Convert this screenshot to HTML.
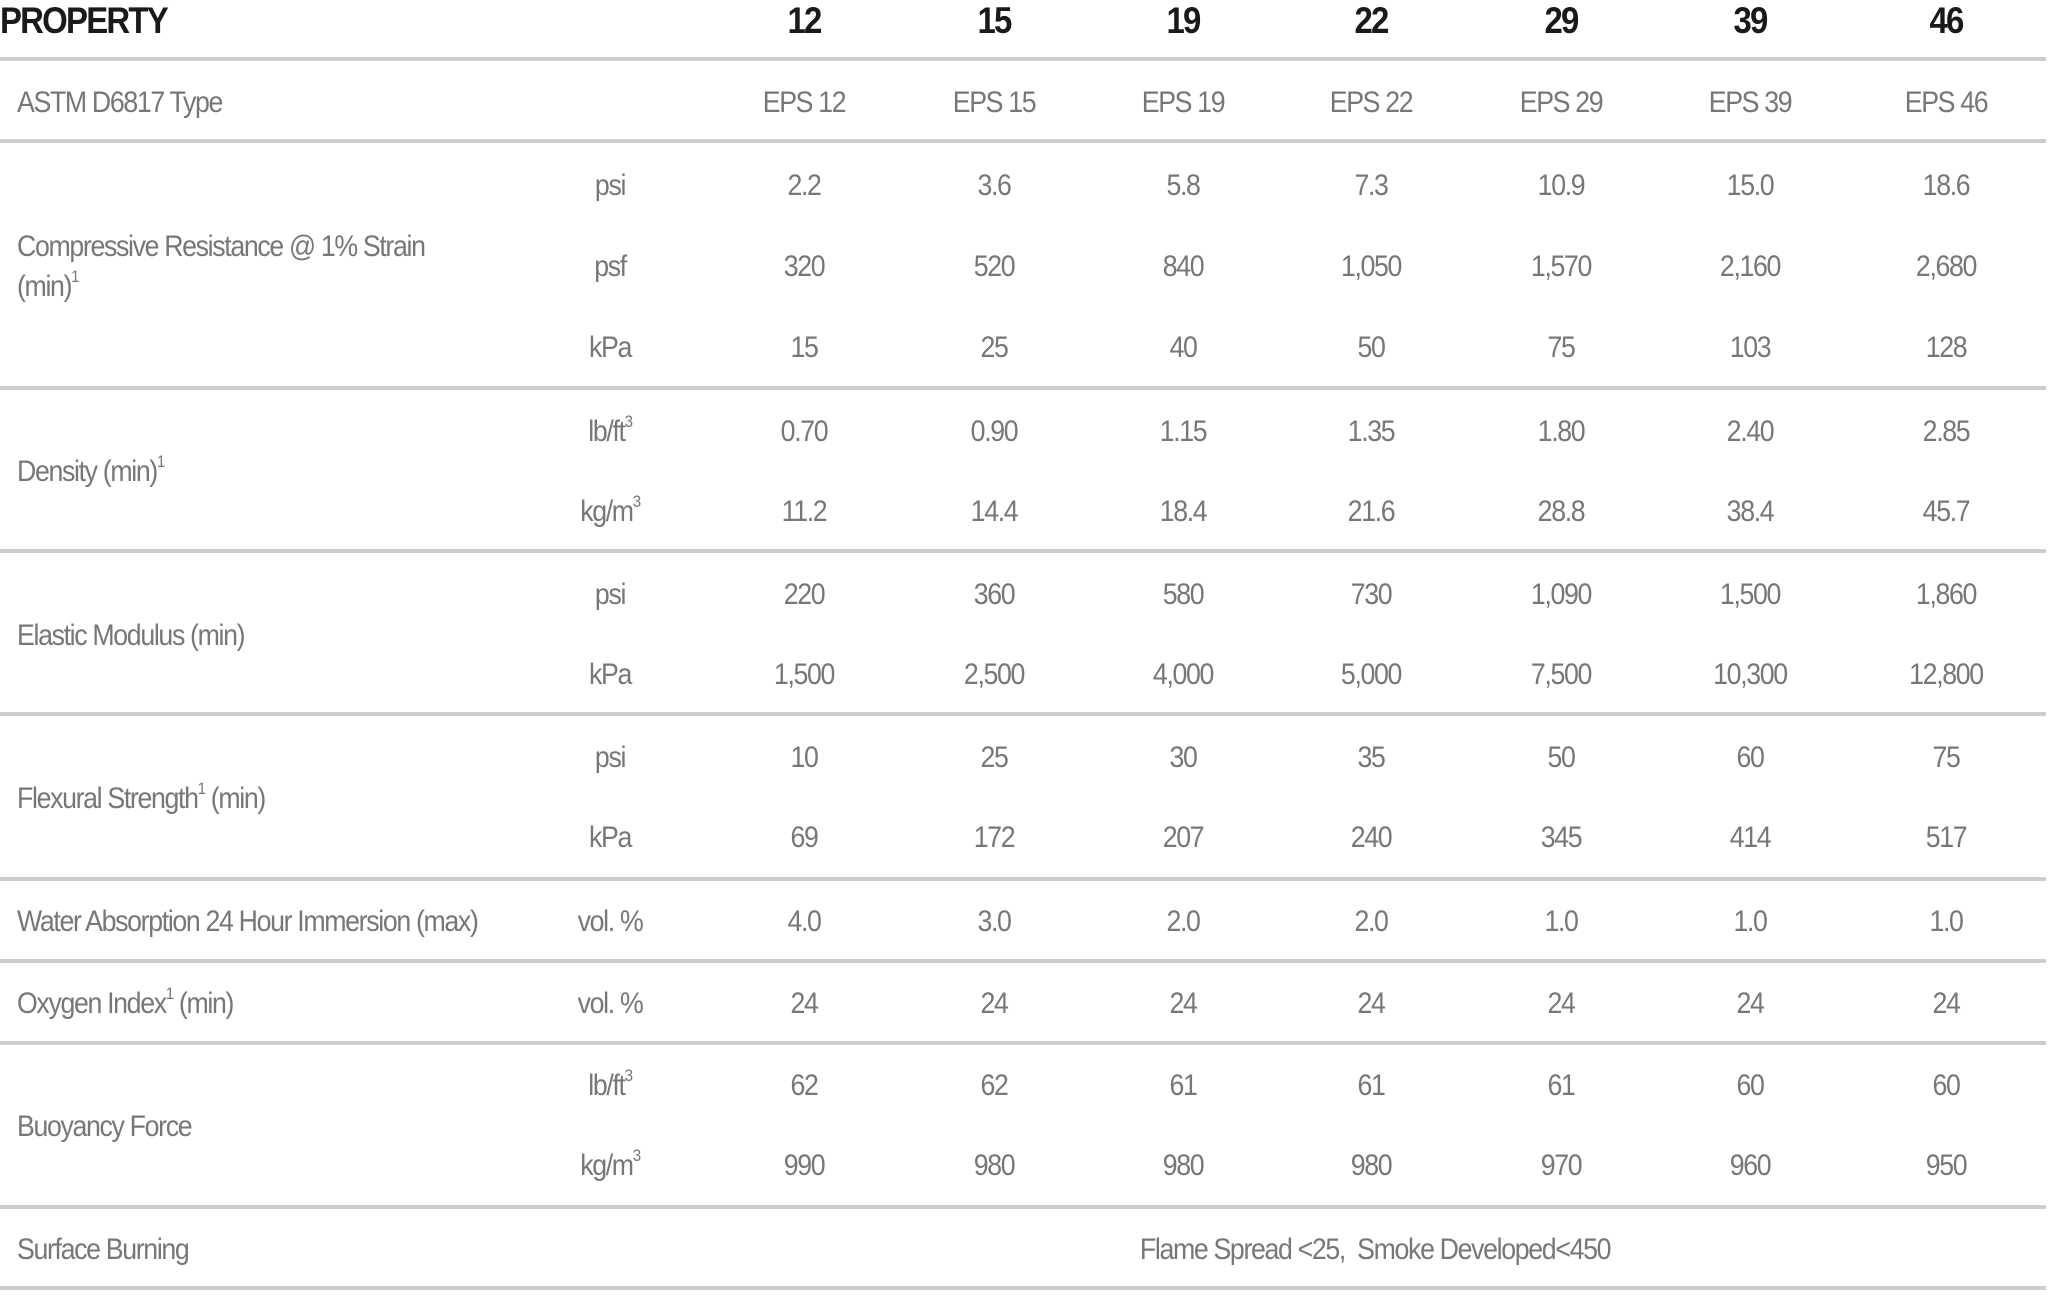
<!DOCTYPE html>
<html><head><meta charset="utf-8"><style>
body{margin:0;width:2048px;height:1295px;background:#fff;position:relative;overflow:hidden;font-family:"Liberation Sans",sans-serif;}
.l{position:absolute;left:0;width:2046px;height:4px;background:#cdcdcd;}
.t{position:absolute;white-space:nowrap;font-size:30px;color:#777;letter-spacing:-1.5px;transform:translate(-50%,-50%) scaleX(.89);}
.p{position:absolute;white-space:nowrap;font-size:30px;color:#777;letter-spacing:-1.5px;transform-origin:0 50%;transform:translateY(-50%) scaleX(.89);}
.h{font-weight:bold;color:#1a1a1a;font-size:37px;letter-spacing:-2px;}
sup{font-size:17px;vertical-align:top;position:relative;top:-3px;}
</style></head><body>
<div class="l" style="top:57px"></div>
<div class="l" style="top:139px"></div>
<div class="l" style="top:386px"></div>
<div class="l" style="top:549px"></div>
<div class="l" style="top:712px"></div>
<div class="l" style="top:877px"></div>
<div class="l" style="top:959px"></div>
<div class="l" style="top:1041px"></div>
<div class="l" style="top:1205px"></div>
<div class="l" style="top:1286px"></div>

<div class="p h" style="left:0;top:21px">PROPERTY</div>
<div class="t h" style="left:804px;top:21px">12</div>
<div class="t h" style="left:994px;top:21px">15</div>
<div class="t h" style="left:1183px;top:21px">19</div>
<div class="t h" style="left:1371px;top:21px">22</div>
<div class="t h" style="left:1561px;top:21px">29</div>
<div class="t h" style="left:1750px;top:21px">39</div>
<div class="t h" style="left:1946px;top:21px">46</div>

<div class="p" style="left:17px;top:103px">ASTM D6817 Type</div>
<div class="t" style="left:804px;top:103px">EPS 12</div><div class="t" style="left:994px;top:103px">EPS 15</div><div class="t" style="left:1183px;top:103px">EPS 19</div><div class="t" style="left:1371px;top:103px">EPS 22</div><div class="t" style="left:1561px;top:103px">EPS 29</div><div class="t" style="left:1750px;top:103px">EPS 39</div><div class="t" style="left:1946px;top:103px">EPS 46</div>

<div class="p" style="left:17px;top:247px">Compressive Resistance @ 1% Strain</div>
<div class="p" style="left:17px;top:287px">(min)<sup>1</sup></div>
<div class="t" style="left:610px;top:186px">psi</div>
<div class="t" style="left:804px;top:186px">2.2</div><div class="t" style="left:994px;top:186px">3.6</div><div class="t" style="left:1183px;top:186px">5.8</div><div class="t" style="left:1371px;top:186px">7.3</div><div class="t" style="left:1561px;top:186px">10.9</div><div class="t" style="left:1750px;top:186px">15.0</div><div class="t" style="left:1946px;top:186px">18.6</div>
<div class="t" style="left:610px;top:267px">psf</div>
<div class="t" style="left:804px;top:267px">320</div><div class="t" style="left:994px;top:267px">520</div><div class="t" style="left:1183px;top:267px">840</div><div class="t" style="left:1371px;top:267px">1,050</div><div class="t" style="left:1561px;top:267px">1,570</div><div class="t" style="left:1750px;top:267px">2,160</div><div class="t" style="left:1946px;top:267px">2,680</div>
<div class="t" style="left:610px;top:348px">kPa</div>
<div class="t" style="left:804px;top:348px">15</div><div class="t" style="left:994px;top:348px">25</div><div class="t" style="left:1183px;top:348px">40</div><div class="t" style="left:1371px;top:348px">50</div><div class="t" style="left:1561px;top:348px">75</div><div class="t" style="left:1750px;top:348px">103</div><div class="t" style="left:1946px;top:348px">128</div>

<div class="p" style="left:17px;top:472px">Density (min)<sup>1</sup></div>
<div class="t" style="left:610px;top:432px">lb/ft<sup>3</sup></div>
<div class="t" style="left:804px;top:432px">0.70</div><div class="t" style="left:994px;top:432px">0.90</div><div class="t" style="left:1183px;top:432px">1.15</div><div class="t" style="left:1371px;top:432px">1.35</div><div class="t" style="left:1561px;top:432px">1.80</div><div class="t" style="left:1750px;top:432px">2.40</div><div class="t" style="left:1946px;top:432px">2.85</div>
<div class="t" style="left:610px;top:512px">kg/m<sup>3</sup></div>
<div class="t" style="left:804px;top:512px">11.2</div><div class="t" style="left:994px;top:512px">14.4</div><div class="t" style="left:1183px;top:512px">18.4</div><div class="t" style="left:1371px;top:512px">21.6</div><div class="t" style="left:1561px;top:512px">28.8</div><div class="t" style="left:1750px;top:512px">38.4</div><div class="t" style="left:1946px;top:512px">45.7</div>

<div class="p" style="left:17px;top:636px">Elastic Modulus (min)</div>
<div class="t" style="left:610px;top:595px">psi</div>
<div class="t" style="left:804px;top:595px">220</div><div class="t" style="left:994px;top:595px">360</div><div class="t" style="left:1183px;top:595px">580</div><div class="t" style="left:1371px;top:595px">730</div><div class="t" style="left:1561px;top:595px">1,090</div><div class="t" style="left:1750px;top:595px">1,500</div><div class="t" style="left:1946px;top:595px">1,860</div>
<div class="t" style="left:610px;top:675px">kPa</div>
<div class="t" style="left:804px;top:675px">1,500</div><div class="t" style="left:994px;top:675px">2,500</div><div class="t" style="left:1183px;top:675px">4,000</div><div class="t" style="left:1371px;top:675px">5,000</div><div class="t" style="left:1561px;top:675px">7,500</div><div class="t" style="left:1750px;top:675px">10,300</div><div class="t" style="left:1946px;top:675px">12,800</div>

<div class="p" style="left:17px;top:799px">Flexural Strength<sup>1</sup> (min)</div>
<div class="t" style="left:610px;top:758px">psi</div>
<div class="t" style="left:804px;top:758px">10</div><div class="t" style="left:994px;top:758px">25</div><div class="t" style="left:1183px;top:758px">30</div><div class="t" style="left:1371px;top:758px">35</div><div class="t" style="left:1561px;top:758px">50</div><div class="t" style="left:1750px;top:758px">60</div><div class="t" style="left:1946px;top:758px">75</div>
<div class="t" style="left:610px;top:838px">kPa</div>
<div class="t" style="left:804px;top:838px">69</div><div class="t" style="left:994px;top:838px">172</div><div class="t" style="left:1183px;top:838px">207</div><div class="t" style="left:1371px;top:838px">240</div><div class="t" style="left:1561px;top:838px">345</div><div class="t" style="left:1750px;top:838px">414</div><div class="t" style="left:1946px;top:838px">517</div>

<div class="p" style="left:17px;top:922px">Water Absorption 24 Hour Immersion (max)</div>
<div class="t" style="left:610px;top:922px">vol. %</div>
<div class="t" style="left:804px;top:922px">4.0</div><div class="t" style="left:994px;top:922px">3.0</div><div class="t" style="left:1183px;top:922px">2.0</div><div class="t" style="left:1371px;top:922px">2.0</div><div class="t" style="left:1561px;top:922px">1.0</div><div class="t" style="left:1750px;top:922px">1.0</div><div class="t" style="left:1946px;top:922px">1.0</div>

<div class="p" style="left:17px;top:1004px">Oxygen Index<sup>1</sup> (min)</div>
<div class="t" style="left:610px;top:1004px">vol. %</div>
<div class="t" style="left:804px;top:1004px">24</div><div class="t" style="left:994px;top:1004px">24</div><div class="t" style="left:1183px;top:1004px">24</div><div class="t" style="left:1371px;top:1004px">24</div><div class="t" style="left:1561px;top:1004px">24</div><div class="t" style="left:1750px;top:1004px">24</div><div class="t" style="left:1946px;top:1004px">24</div>

<div class="p" style="left:17px;top:1127px">Buoyancy Force</div>
<div class="t" style="left:610px;top:1086px">lb/ft<sup>3</sup></div>
<div class="t" style="left:804px;top:1086px">62</div><div class="t" style="left:994px;top:1086px">62</div><div class="t" style="left:1183px;top:1086px">61</div><div class="t" style="left:1371px;top:1086px">61</div><div class="t" style="left:1561px;top:1086px">61</div><div class="t" style="left:1750px;top:1086px">60</div><div class="t" style="left:1946px;top:1086px">60</div>
<div class="t" style="left:610px;top:1166px">kg/m<sup>3</sup></div>
<div class="t" style="left:804px;top:1166px">990</div><div class="t" style="left:994px;top:1166px">980</div><div class="t" style="left:1183px;top:1166px">980</div><div class="t" style="left:1371px;top:1166px">980</div><div class="t" style="left:1561px;top:1166px">970</div><div class="t" style="left:1750px;top:1166px">960</div><div class="t" style="left:1946px;top:1166px">950</div>

<div class="p" style="left:17px;top:1250px">Surface Burning</div>
<div class="t" style="left:1375px;top:1250px">Flame Spread &lt;25,&nbsp; Smoke Developed&lt;450</div>
</body></html>
